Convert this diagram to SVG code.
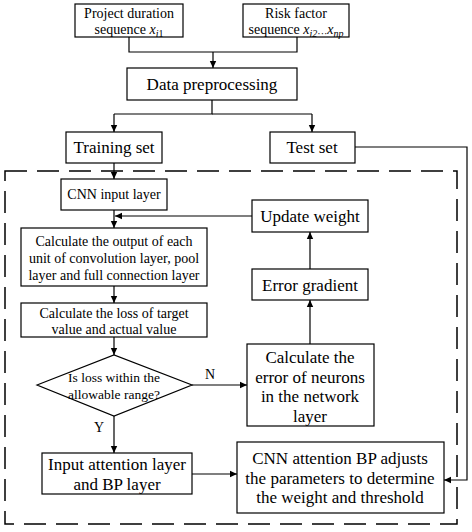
<svg xmlns="http://www.w3.org/2000/svg" width="472" height="532" viewBox="0 0 472 532">
<defs>
<marker id="ah" markerWidth="8" markerHeight="8" refX="7" refY="4" orient="auto" markerUnits="userSpaceOnUse">
<path d="M0,0.8 L7,4 L0,7.2 Z" fill="#000"/>
</marker>
<style>
.box{fill:#fff;stroke:#000;stroke-width:1.2}
.t{fill:#000;text-anchor:middle}
.s14{font-size:14px}
.s17{font-size:17px}
.ln{fill:none;stroke:#000;stroke-width:1.2}
.ar{fill:none;stroke:#000;stroke-width:1.2;marker-end:url(#ah)}
.it{font-style:italic}
</style>
</defs>
<rect width="472" height="532" fill="#fff"/>
<rect x="5" y="171" width="452" height="353" fill="none" stroke="#000" stroke-width="1.5" stroke-dasharray="22,10"/>
<g font-family="Liberation Serif, Times New Roman, DejaVu Serif, serif">
<g id="connectors">
<path class="ln" d="M129,37 V52 H297 V37"/>
<path class="ar" d="M213,52 V68"/>
<path class="ln" d="M212,100 V114 H114"/>
<path class="ln" d="M212,114 H312"/>
<path class="ar" d="M114,114 V132"/>
<path class="ar" d="M312,114 V132"/>
<path class="ar" d="M114,163 V179"/>
<path class="ar" d="M114,210 V228"/>
<path class="ar" d="M252,216 H115"/>
<path class="ar" d="M114,286 V303"/>
<path class="ar" d="M114,337 V355"/>
<path class="ar" d="M192,385 H247"/>
<path class="ar" d="M310,344 V300"/>
<path class="ar" d="M310,269 V232"/>
<path class="ar" d="M114,416 V453"/>
<path class="ar" d="M192,474 H237"/>
<path class="ar" d="M355,147 H467 V480 H444"/>
<text class="t s14" x="210" y="379">N</text>
<text class="t s14" x="99" y="432">Y</text>
</g>
<g id="n1">
<rect class="box" x="75" y="4" width="108" height="33"/>
<text class="t s14" x="129" y="18">Project duration</text>
<text class="t s14" x="129" y="34">sequence <tspan class="it">x</tspan><tspan class="it" font-size="10" dy="3">i</tspan><tspan font-size="10">1</tspan></text>
</g>
<g id="n2">
<rect class="box" x="243" y="4" width="106" height="33"/>
<text class="t s14" x="296" y="18">Risk factor</text>
<text class="t s14" x="296" y="34">sequence <tspan class="it">x</tspan><tspan class="it" font-size="10" dy="3">i2</tspan><tspan font-size="10">···</tspan><tspan class="it" dy="-3">x</tspan><tspan class="it" font-size="10" dy="3">np</tspan></text>
</g>
<g id="n3">
<rect class="box" x="127" y="68" width="170" height="32"/>
<text class="t s17" x="212" y="90">Data preprocessing</text>
</g>
<g id="n4">
<rect class="box" x="66" y="132" width="96" height="31"/>
<text class="t s17" x="114" y="153">Training set</text>
</g>
<g id="n5">
<rect class="box" x="270" y="132" width="85" height="31"/>
<text class="t s17" x="312" y="153">Test set</text>
</g>
<g id="n6">
<rect class="box" x="61" y="179" width="106" height="31"/>
<text class="t s14" x="114" y="199">CNN input layer</text>
</g>
<g id="n7">
<rect class="box" x="252" y="200" width="116" height="32"/>
<text class="t s17" x="310" y="222">Update weight</text>
</g>
<g id="n8">
<rect class="box" x="21" y="228" width="186" height="58"/>
<text class="t s14" x="114" y="246">Calculate the output of each</text>
<text class="t s14" x="114" y="263">unit of convolution layer, pool</text>
<text class="t s14" x="114" y="280">layer and full connection layer</text>
</g>
<g id="n9">
<rect class="box" x="252" y="269" width="116" height="31"/>
<text class="t s17" x="310" y="291">Error gradient</text>
</g>
<g id="n10">
<rect class="box" x="21" y="303" width="186" height="34"/>
<text class="t s14" x="114" y="318">Calculate the loss of target</text>
<text class="t s14" x="114" y="334">value and actual value</text>
</g>
<g id="n11">
<polygon class="box" points="37,385 114,355 192,385 114,416"/>
<text class="t" font-size="13.5" x="114" y="382">Is loss within the</text>
<text class="t" font-size="13.5" x="114" y="399">allowable range?</text>
</g>
<g id="n12">
<rect class="box" x="247" y="344" width="127" height="82"/>
<text class="t s17" x="310" y="363">Calculate the</text>
<text class="t s17" x="310" y="383">error of neurons</text>
<text class="t s17" x="310" y="402">in the network</text>
<text class="t s17" x="310" y="422">layer</text>
</g>
<g id="n13">
<rect class="box" x="42" y="453" width="150" height="41"/>
<text class="t s17" x="117" y="470">Input attention layer</text>
<text class="t s17" x="117" y="490">and BP layer</text>
</g>
<g id="n14">
<rect class="box" x="237" y="442" width="207" height="71"/>
<text class="t s17" x="340" y="464">CNN attention BP adjusts</text>
<text class="t s17" x="340" y="484">the parameters to determine</text>
<text class="t s17" x="340" y="503">the weight and threshold</text>
</g>
</g>
</svg>
